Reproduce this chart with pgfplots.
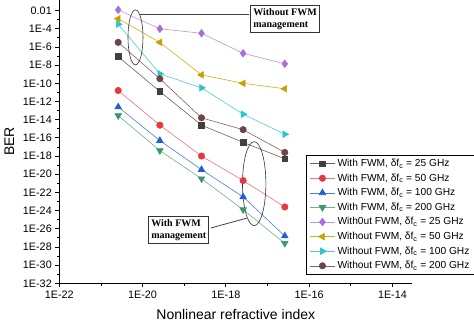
\documentclass[border=0pt]{standalone}
\usepackage{fontspec}
\setmainfont{Liberation Sans}
\newfontfamily\serifb{Liberation Serif}
\usepackage{pgfplots}
\pgfplotsset{compat=1.18}
\definecolor{cA}{HTML}{404040}
\definecolor{cB}{HTML}{E8383F}
\definecolor{cC}{HTML}{1C5FD8}
\definecolor{cD}{HTML}{3A9A64}
\definecolor{cE}{HTML}{A86FDB}
\definecolor{cF}{HTML}{C9A000}
\definecolor{cG}{HTML}{2CC5CF}
\definecolor{cH}{HTML}{6E4545}
\begin{document}
\begin{tikzpicture}
\begin{axis}[name=ax, scale only axis, width=353pt, height=283.4pt,
  xmode=log, ymode=log, xmin=1e-22, xmax=3e-14, ymin=1e-32, ymax=0.15,
  axis lines*=left, tick align=outside,
  axis line style={line width=0.8pt},
  major tick length=4pt, minor tick length=2.5pt,
  every tick/.style={line width=0.8pt, black},
  xtick={1e-22,1e-20,1e-18,1e-16,1e-14},
  xticklabels={1E-22,1E-20,1E-18,1E-16,1E-14},
  minor xtick={1e-21,1e-19,1e-17,1e-15},
  ytick={1e-2,1e-4,1e-6,1e-8,1e-10,1e-12,1e-14,1e-16,1e-18,1e-20,1e-22,1e-24,1e-26,1e-28,1e-30,1e-32},
  yticklabels={0.01,1E-4,1E-6,1E-8,1E-10,1E-12,1E-14,1E-16,1E-18,1E-20,1E-22,1E-24,1E-26,1E-28,1E-30,1E-32},
  minor ytick={1e-3,1e-5,1e-7,1e-9,1e-11,1e-13,1e-15,1e-17,1e-19,1e-21,1e-23,1e-25,1e-27,1e-29,1e-31},
  tick label style={font=\fontsize{10.8}{12}\selectfont},
  xlabel={Nonlinear refractive index}, ylabel={BER},
  label style={font=\fontsize{14}{16}\selectfont},
  xlabel style={yshift=-4pt},
  ylabel style={yshift=2pt},
  legend style={at={(0.699,0.453)}, anchor=north west, font=\fontsize{10.2}{12}\selectfont, draw=black, line width=0.6pt, row sep=1.7pt},
  legend cell align=left,
  legend image code/.code={\draw[mark repeat=2,mark phase=2] plot coordinates {(0cm,0cm) (0.45cm,0cm) (0.9cm,0cm)};},
  every axis plot/.append style={line width=0.6pt},
  clip=false,
]
\addplot[color=cA!80, mark=square*, mark size=2.8pt, mark options={fill=cA, draw=cA}] coordinates {(2.6e-21,8.7e-8) (2.6e-20,1.26e-11) (2.6e-19,2.5e-15) (2.6e-18,3.2e-17) (2.6e-17,5.0e-19)};
\addplot[color=cB!70, mark=*, mark size=3.2pt, mark options={fill=cB, draw=cB}] coordinates {(2.6e-21,1.6e-11) (2.6e-20,2.5e-15) (2.6e-19,1e-18) (2.6e-18,2.0e-21) (2.6e-17,2.5e-24)};
\addplot[color=cC!80, mark=triangle*, mark size=3.8pt, mark options={fill=cC, draw=cC}] coordinates {(2.6e-21,2.5e-13) (2.6e-20,5.0e-17) (2.6e-19,3.2e-20) (2.6e-18,3.2e-23) (2.6e-17,1.6e-27)};
\addplot[color=cD!75, mark=triangle*, mark size=3.8pt, mark options={fill=cD, draw=cD, rotate=180}] coordinates {(2.6e-21,2.8e-14) (2.6e-20,4.0e-18) (2.6e-19,3.2e-21) (2.6e-18,1.26e-24) (2.6e-17,2.5e-28)};
\addplot[color=cE!75, mark=diamond*, mark size=3.8pt, mark options={fill=cE, draw=cE}] coordinates {(2.6e-21,1.2e-2) (2.6e-20,1e-4) (2.6e-19,3.2e-5) (2.6e-18,2.0e-7) (2.6e-17,1.4e-8)};
\addplot[color=cF!85, mark=triangle*, mark size=3.8pt, mark options={fill=cF, draw=cF, rotate=90}] coordinates {(2.6e-21,1.26e-3) (2.6e-20,3.2e-6) (2.6e-19,8.5e-10) (2.6e-18,1.0e-10) (2.6e-17,2.5e-11)};
\addplot[color=cG!85, mark=triangle*, mark size=3.8pt, mark options={fill=cG, draw=cG, rotate=-90}] coordinates {(2.6e-21,3.2e-4) (2.6e-20,1.1e-9) (2.6e-19,3.2e-11) (2.6e-18,4.0e-14) (2.6e-17,2.5e-16)};
\addplot[color=cH!85, mark=*, mark size=3.2pt, mark options={fill=cH, draw=cH}] coordinates {(2.6e-21,3.2e-6) (2.6e-20,3.2e-10) (2.6e-19,1.6e-14) (2.6e-18,7.9e-16) (2.6e-17,2.5e-18)};
\legend{With FWM{,} δf\textsubscript{c} = 25 GHz, With FWM{,} δf\textsubscript{c} = 50 GHz, With FWM{,} δf\textsubscript{c} = 100 GHz, With FWM{,} δf\textsubscript{c} = 200 GHz, With0ut FWM{,} δf\textsubscript{c} = 25 GHz, Without FWM{,} δf\textsubscript{c} = 50 GHz, Without FWM{,} δf\textsubscript{c} = 100 GHz, Without FWM{,} δf\textsubscript{c} = 200 GHz}
% annotations
\draw[black!80, line width=0.6pt] (axis cs:6.76e-21,1.12e-5) ellipse [x radius=7.5pt, y radius=27.5pt];
\draw[black!75, line width=0.8pt] (axis cs:8.71e-21,3.39e-3) -- (axis cs:3.55e-18,3.39e-3);
\node[draw=black!80, line width=0.8pt, fill=white, align=left, inner sep=2.5pt, font=\serifb\bfseries\fontsize{10}{12}\selectfont] at (axis cs:2.63e-17,1.23e-3) {Without FWM\\management};
\draw[black!80, line width=0.6pt] (axis cs:4.79e-18,9.12e-22) ellipse [x radius=11.7pt, y radius=42pt];
\draw[black!75, line width=0.8pt] (axis cs:4.37e-19,1.23e-26) -- (axis cs:3.16e-18,1.45e-25);
\node[draw=black!80, line width=0.8pt, fill=white, align=left, inner sep=2.5pt, font=\serifb\bfseries\fontsize{10}{12}\selectfont] at (axis cs:7.41e-20,7.41e-27) {With FWM\\management};
\end{axis}
\pgfresetboundingbox
\path ([shift={(-59.3pt,-45.7pt)}]ax.south west) rectangle ([shift={(414.7pt,283.3pt)}]ax.south west);
\end{tikzpicture}
\end{document}
